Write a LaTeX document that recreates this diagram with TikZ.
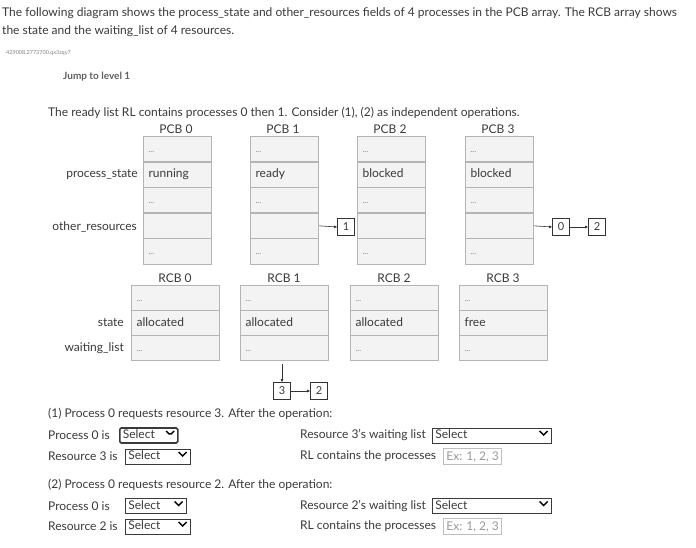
\documentclass[tikz,border=0pt]{standalone}
\usepackage{fontspec}
\setmainfont{Lato}
\usetikzlibrary{arrows.meta}
\definecolor{txt}{HTML}{3A3A3A}
\definecolor{cellf}{HTML}{F3F3F3}
\definecolor{celld}{HTML}{B4B4B4}
\newcommand\mychev{\tikz[baseline={(0,-7.5pt)}]\draw[line width=1.4pt,black] (0pt,0pt)--(4pt,-4pt)--(8pt,0pt);}
\begin{document}
\begin{tikzpicture}[x=1pt,y=-1pt,
  every node/.style={font=\fontsize{12}{14}\selectfont,text=txt,inner sep=0pt},
  cell/.style={draw=celld,line width=1.2pt,fill=cellf,minimum height=25.5pt,anchor=north west,text width=#1,align=left,text height=8.5pt,text depth=2.5pt},
  cellsm/.style={draw=celld,line width=1.2pt,fill=cellf,minimum height=25pt,anchor=north west,text width=#1,align=left,text height=8.5pt,text depth=2.5pt},
  lbox/.style={draw=black!80,line width=0.6pt,minimum width=17pt,minimum height=17pt,anchor=center,font=\fontsize{11}{12}\selectfont},
  arr/.style={-{Latex[length=3pt,width=3pt]},line width=0.6pt,black!80},
  lab/.style={anchor=east},
  sel/.style={draw=txt,line width=0.8pt,anchor=west,minimum height=15pt,text width=#1,align=left,inner xsep=3pt,text height=8.5pt,text depth=2.5pt},
  inp/.style={draw=black!25,line width=0.8pt,anchor=west,minimum height=16pt,minimum width=56pt,text=gray!80,inner xsep=3pt,align=left}
]
\useasboundingbox[fill=white] (0,0) rectangle (696,548);
% header
\node[anchor=west] (h1) at (2,13) {The following diagram shows the process\_state and other\_resources fields of 4 processes in the PCB array. The RCB array shows};
\node[anchor=west] (h2) at (2,31) {the state and the waiting\_list of 4 resources.};
\node[anchor=west,font=\fontsize{5.5}{6}\selectfont,text=gray] (code) at (6,53) {429008.2773700.qx3zqy7};
\node[anchor=west,font=\bfseries\fontsize{10}{12}\selectfont,text=txt!80] (jump) at (63,77) {Jump to level 1};
\node[anchor=west] (intro) at (48,113) {The ready list RL contains processes 0 then 1. Consider (1), (2) as independent operations.};
% PCBs
\foreach \i/\x/\st in {0/143/running,1/250/ready,2/357/blocked,3/465/blocked}{
  \node (pcbl\i) at (\x+33,129) {PCB \i};
  \node[cell=58pt,inner xsep=5pt] (p\i a) at (\x,136) {\fontsize{8}{9}\selectfont\color{gray}...};
  \node[cell=58pt,inner xsep=5pt] (p\i b) at (\x,161.5) {\st};
  \node[cell=58pt,inner xsep=5pt] (p\i c) at (\x,187) {\fontsize{8}{9}\selectfont\color{gray}...};
  \node[cell=58pt,inner xsep=5pt] (p\i d) at (\x,212.5) {};
  \node[cell=58pt,inner xsep=5pt] (p\i e) at (\x,238) {\fontsize{8}{9}\selectfont\color{gray}...};
}
\node[lab] (lps) at (138,175) {process\_state};
\node[lab] (lor) at (137,227) {other\_resources};
\node[lbox] (b1) at (346,227) {1};
\draw[arr] (p1d.east) -- (b1.west);
\node[lbox] (b0) at (561,227) {0};
\node[lbox] (b2) at (597,227) {2};
\draw[arr] (p3d.east) -- (b0.west);
\draw[arr] (b0.east) -- (b2.west);
% RCBs
\foreach \i/\x/\st in {0/131/allocated,1/240/allocated,2/350/allocated,3/459/free}{
  \node (rcbl\i) at (\x+44,278) {RCB \i};
  \node[cellsm=78pt,inner xsep=5pt] (r\i a) at (\x,285) {\fontsize{8}{9}\selectfont\color{gray}...};
  \node[cellsm=78pt,inner xsep=5pt] (r\i b) at (\x,310) {\st};
  \node[cellsm=78pt,inner xsep=5pt] (r\i c) at (\x,335) {\fontsize{8}{9}\selectfont\color{gray}...};
}
\node[lab] (lst) at (124,323) {state};
\node[lab] (lwl) at (124,348) {waiting\_list};
\node[lbox] (w3) at (282,391) {3};
\node[lbox] (w2) at (319,391) {2};
\coordinate (ws) at (282,364);
\draw[arr] (ws) -- (w3.north);
\draw[arr] (w3.east) -- (w2.west);
% questions
\node[anchor=west] (q1) at (48,414) {(1) Process 0 requests resource 3. After the operation:};
\node[anchor=west] (q1a) at (48,435) {Process 0 is};
\node[sel=52pt,line width=1.6pt,rounded corners=1.5pt] (s1a) at (119,435.5) {Select \hfill\mychev};
\node[anchor=west] (q1b) at (48,456) {Resource 3 is};
\node[sel=59pt] (s1b) at (125,456.5) {Select \hfill\mychev};
\node[anchor=west] (q1c) at (300,435) {Resource 3's waiting list};
\node[sel=113pt] (s1c) at (432,435.5) {Select \hfill\mychev};
\node[anchor=west] (q1d) at (300,456) {RL contains the processes};
\node[inp] (i1) at (443,456.5) {Ex: 1, 2, 3};
\node[anchor=west] (q2) at (48,485) {(2) Process 0 requests resource 2. After the operation:};
\node[anchor=west] (q2a) at (48,506) {Process 0 is};
\node[sel=55pt] (s2a) at (125,506) {Select \hfill\mychev};
\node[anchor=west] (q2b) at (48,526) {Resource 2 is};
\node[sel=59pt] (s2b) at (125,526.5) {Select \hfill\mychev};
\node[anchor=west] (q2c) at (300,506) {Resource 2's waiting list};
\node[sel=113pt] (s2c) at (432,506) {Select \hfill\mychev};
\node[anchor=west] (q2d) at (300,526) {RL contains the processes};
\node[inp] (i2) at (443,526.5) {Ex: 1, 2, 3};
\end{tikzpicture}
\end{document}
